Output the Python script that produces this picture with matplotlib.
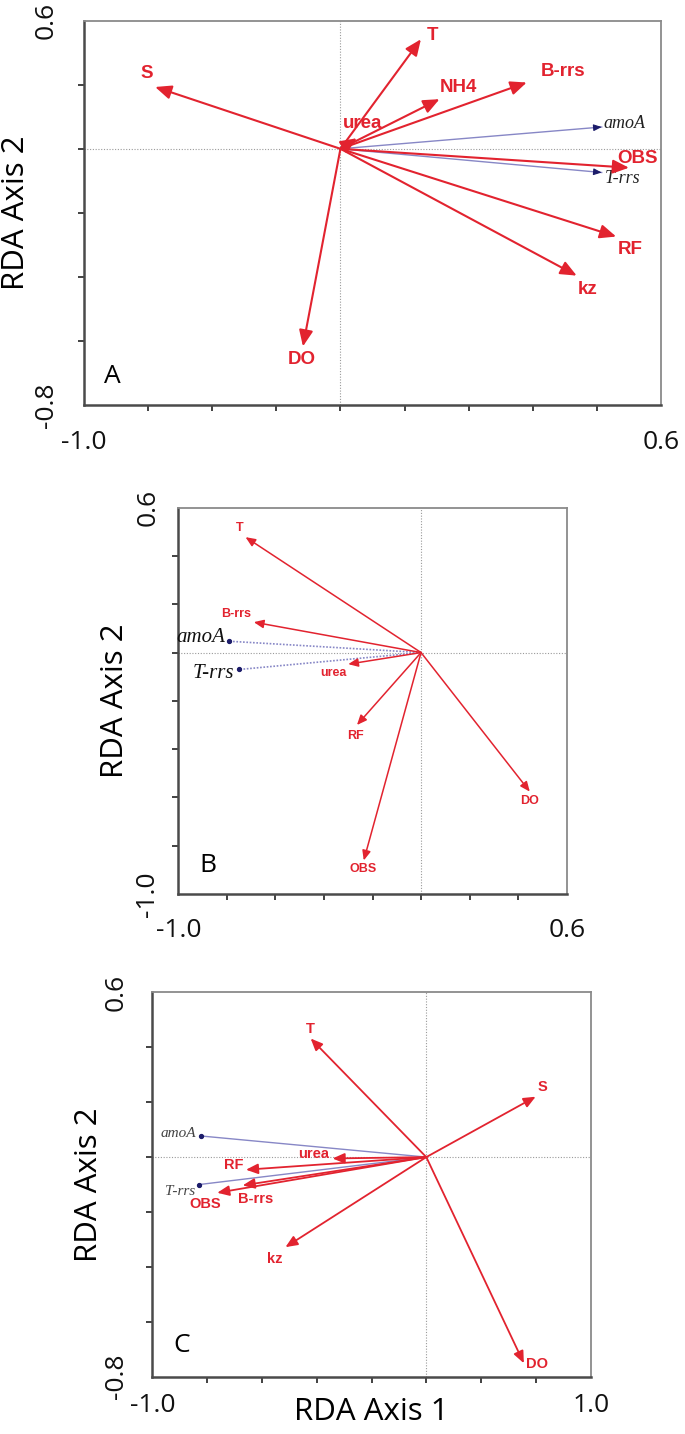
import numpy as np
import matplotlib
matplotlib.use('Agg')
import matplotlib.pyplot as plt

plt.rcParams['font.family'] = ['Open Sans', 'DejaVu Sans']

# RDA biplot scores (origin of each panel at 0, 0)

# panel A
a_env_names = ['S', 'T', 'NH4', 'B-rrs', 'urea', 'OBS', 'RF', 'kz', 'DO']
a_env_x = [-0.578, 0.251, 0.309, 0.581, 0.051, 0.900, 0.860, 0.737, -0.117]
a_env_y = [0.193, 0.342, 0.155, 0.207, 0.033, -0.059, -0.274, -0.396, -0.617]
a_sp_names = ['amoA', 'T-rrs']
a_sp_x = [0.815, 0.815]
a_sp_y = [0.068, -0.074]
a_xticklabels = ['-1.0', '0.6']
a_yticklabels = ['-0.8', '0.6']

# panel B
b_env_names = ['T', 'B-rrs', 'urea', 'RF', 'OBS', 'DO']
b_env_x = [-0.723, -0.689, -0.300, -0.264, -0.236, 0.448]
b_env_y = [0.478, 0.126, -0.048, -0.300, -0.861, -0.576]
b_sp_names = ['amoA', 'T-rrs']
b_sp_x = [-0.792, -0.748]
b_sp_y = [0.047, -0.070]
b_xticklabels = ['-1.0', '0.6']
b_yticklabels = ['-1.0', '0.6']

# panel C
c_env_names = ['T', 'S', 'DO', 'kz', 'urea', 'RF', 'B-rrs', 'OBS']
c_env_x = [-0.422, 0.399, 0.356, -0.514, -0.342, -0.658, -0.670, -0.763]
c_env_y = [0.432, 0.220, -0.751, -0.328, -0.005, -0.046, -0.103, -0.130]
c_sp_names = ['amoA', 'T-rrs']
c_sp_x = [-0.823, -0.829]
c_sp_y = [0.077, -0.100]
c_xticklabels = ['-1.0', '1.0']
c_yticklabels = ['-0.8', '0.6']

RED = '#e2232f'
SP_LINE = '#8787c6'
SP_TIP = '#1c1c6a'

# label offsets from the arrow tips, in pixels
a_offsets = {'S': (-8, 13), 'T': (12, 4), 'NH4': (19, 12), 'B-rrs': (36, 11),
             'urea': (6, 15), 'OBS': (9, 9), 'RF': (14, -13), 'kz': (11, -14),
             'DO': (-1, -13), 'amoA': (2, 4), 'T-rrs': (3, -6)}
b_offsets = {'T': (-6, 9), 'B-rrs': (-18, 8), 'urea': (-15, -9), 'RF': (-2, -11),
             'OBS': (-1, -9), 'DO': (0, -9), 'amoA': (-4, 4), 'T-rrs': (-5, -4)}
c_offsets = {'T': (0, 10), 'S': (7, 10), 'DO': (13, -1), 'kz': (-11, -12),
             'urea': (-19, 4), 'RF': (-12, 5), 'B-rrs': (13, -14), 'OBS': (-12, -11),
             'amoA': (-5, 2), 'T-rrs': (-4, -7)}


def draw_panel(ax, env, sp, offsets, frame, style, texts):
    env_names, env_x, env_y = env
    sp_names, sp_x, sp_y = sp
    xlim, ylim, nx, ny = frame

    ax.set_xlim(xlim)
    ax.set_ylim(ylim)

    # dotted lines through the origin
    ax.axhline(0, color='#9a9a9a', ls=(0, (1, 1.5)), lw=0.8, zorder=1)
    ax.axvline(0, color='#9a9a9a', ls=(0, (1, 1.5)), lw=0.8, zorder=1)

    # species arrows (blue)
    for name, x, y in zip(sp_names, sp_x, sp_y):
        ax.plot([0, x], [0, y], color=SP_LINE, lw=style['sp_lw'],
                ls=style['sp_ls'], zorder=2)
        if style['sp_head']:
            ax.annotate('', xy=(x, y), xytext=(0.97 * x, 0.97 * y),
                        arrowprops=dict(arrowstyle='-|>,head_length=0.6,head_width=0.25',
                                        color=SP_TIP, lw=0.8, shrinkA=0, shrinkB=0,
                                        mutation_scale=8), zorder=3)
        else:
            ax.plot([x], [y], 'o', color=SP_TIP, ms=2.8, zorder=3)
        ha = 'left' if x > 0 else 'right'
        ax.annotate(name, xy=(x, y), xytext=offsets[name], textcoords='offset pixels',
                    ha=ha, va='center', fontsize=style['sp_fs'], style='italic',
                    family=['Liberation Serif', 'DejaVu Serif'], color=style['sp_color'])

    # environmental arrows (red)
    for name, x, y in zip(env_names, env_x, env_y):
        ax.annotate('', xy=(x, y), xytext=(0, 0),
                    arrowprops=dict(arrowstyle='-|>,head_length=0.65,head_width=0.28',
                                    color=RED, lw=style['lw'], shrinkA=0, shrinkB=0,
                                    mutation_scale=style['ms']), zorder=4)
        ax.annotate(name, xy=(x, y), xytext=offsets[name], textcoords='offset pixels',
                    ha='center', va='center', fontsize=style['fs'], fontweight='bold',
                    family=['Liberation Sans', 'DejaVu Sans'], color=RED, zorder=5)

    # frame and ticks
    for side in ['left', 'bottom']:
        ax.spines[side].set_color('#4a4a4a')
        ax.spines[side].set_linewidth(1.8)
    for side in ['top', 'right']:
        ax.spines[side].set_color('#8a8a8a')
        ax.spines[side].set_linewidth(1.3)

    ax.set_xticks(np.linspace(xlim[0], xlim[1], nx + 1), minor=True)
    ax.set_yticks(np.linspace(ylim[0], ylim[1], ny + 1), minor=True)
    ax.set_xticks(xlim, labels=texts['xt'])
    ax.set_yticks(ylim, labels=texts['yt'], rotation=90, va='center')
    ax.tick_params(which='minor', direction='out', length=4, width=1.3, color='#333333')
    ax.tick_params(which='major', length=0, labelsize=19, labelcolor='#111111')
    ax.tick_params(axis='x', which='major', pad=texts['xpad'])
    ax.tick_params(axis='y', which='major', pad=texts['ypad'])

    ax.set_ylabel('RDA Axis 2', fontsize=22.5, va='center', ha='center')
    ax.yaxis.set_label_coords(texts['ylab_x'], 0.5)

    ax.text(texts['letter_xy'][0], texts['letter_xy'][1], texts['letter'],
            transform=ax.transAxes, fontsize=19, ha='center', va='center')


fig = plt.figure(figsize=(6.85, 14.34), dpi=100)

ax_a = fig.add_axes([84 / 685, 1 - 405 / 1434, 577 / 685, 384.3 / 1434])
draw_panel(ax_a,
           (a_env_names, a_env_x, a_env_y),
           (a_sp_names, a_sp_x, a_sp_y),
           a_offsets,
           ((-0.8, 1.0), (-0.8, 0.4), 9, 6),
           dict(lw=1.5, ms=15, fs=13.5, sp_fs=13, sp_lw=1.0, sp_ls='-',
                sp_head=True, sp_color='#222222'),
           dict(xt=a_xticklabels, yt=a_yticklabels, xpad=18, ypad=18,
                ylab_x=-0.118, letter='A', letter_xy=(0.0485, 0.073)))

ax_b = fig.add_axes([178.3 / 685, 1 - 894 / 1434, 388.4 / 685, 386.3 / 1434])
draw_panel(ax_b,
           (b_env_names, b_env_x, b_env_y),
           (b_sp_names, b_sp_x, b_sp_y),
           b_offsets,
           ((-1.0, 0.6), (-1.0, 0.6), 8, 8),
           dict(lw=1.1, ms=9, fs=9, sp_fs=15, sp_lw=1.2, sp_ls=(0, (1, 1)),
                sp_head=False, sp_color='#111111'),
           dict(xt=b_xticklabels, yt=b_yticklabels, xpad=17, ypad=13,
                ylab_x=-0.163, letter='B', letter_xy=(0.0765, 0.0725)))

ax_c = fig.add_axes([152.3 / 685, 1 - 1376.7 / 1434, 438.4 / 685, 384.3 / 1434])
draw_panel(ax_c,
           (c_env_names, c_env_x, c_env_y),
           (c_sp_names, c_sp_x, c_sp_y),
           c_offsets,
           ((-1.0, 0.6), (-0.8, 0.6), 8, 7),
           dict(lw=1.3, ms=11, fs=10.5, sp_fs=11, sp_lw=1.0, sp_ls='-',
                sp_head=False, sp_color='#444444'),
           dict(xt=c_xticklabels, yt=c_yticklabels, xpad=11.5, ypad=17,
                ylab_x=-0.144, letter='C', letter_xy=(0.0666, 0.08)))
ax_c.set_xlabel('RDA Axis 1', fontsize=22.5, va='center')
ax_c.xaxis.set_label_coords(0.5, -0.091)

fig.savefig('out.png', dpi=100)
